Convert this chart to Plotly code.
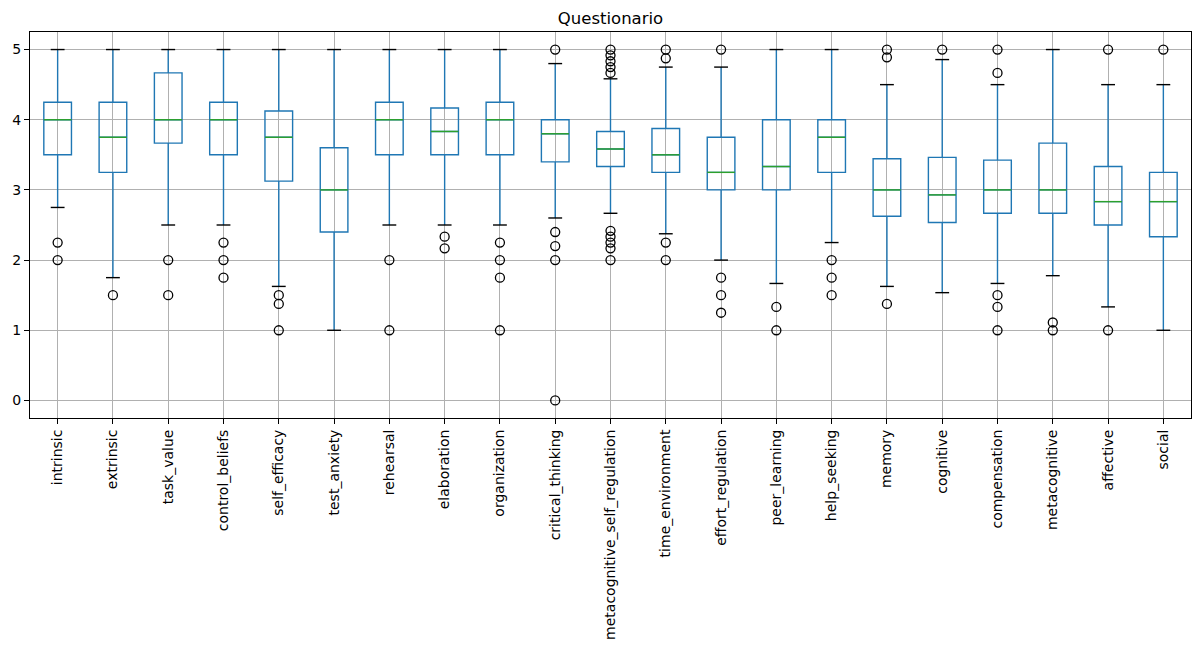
import plotly.graph_objects as go

categories = ["intrinsic", "extrinsic", "task_value", "control_beliefs", "self_efficacy",
              "test_anxiety", "rehearsal", "elaboration", "organization", "critical_thinking",
              "metacognitive_self_regulation", "time_environment", "effort_regulation",
              "peer_learning", "help_seeking", "memory", "cognitive", "compensation",
              "metacognitive", "affective", "social"]

q1 = [3.5, 3.25, 3.667, 3.5, 3.125, 2.4, 3.5, 3.5, 3.5, 3.4, 3.333, 3.25, 3.0, 3.0, 3.25,
      2.625, 2.536, 2.667, 2.667, 2.5, 2.333]
median = [4.0, 3.75, 4.0, 4.0, 3.75, 3.0, 4.0, 3.833, 4.0, 3.8, 3.583, 3.5, 3.25, 3.333, 3.75,
          3.0, 2.929, 3.0, 3.0, 2.833, 2.833]
q3 = [4.25, 4.25, 4.667, 4.25, 4.125, 3.6, 4.25, 4.167, 4.25, 4.0, 3.833, 3.875, 3.75, 4.0, 4.0,
      3.444, 3.464, 3.424, 3.667, 3.333, 3.25]
whisker_low = [2.75, 1.75, 2.5, 2.5, 1.625, 1.0, 2.5, 2.5, 2.5, 2.6, 2.667, 2.375, 2.0, 1.667, 2.25,
               1.625, 1.536, 1.667, 1.778, 1.333, 1.0]
whisker_high = [5.0, 5.0, 5.0, 5.0, 5.0, 5.0, 5.0, 5.0, 5.0, 4.8, 4.583, 4.75, 4.75, 5.0, 5.0,
                4.5, 4.857, 4.5, 5.0, 4.5, 4.5]
outliers = [
    [2.25, 2.0],
    [1.5],
    [2.0, 1.5],
    [2.25, 2.0, 1.75],
    [1.5, 1.375, 1.0],
    [],
    [2.0, 1.0],
    [2.333, 2.167],
    [2.25, 2.0, 1.75, 1.0],
    [5.0, 2.4, 2.2, 2.0, 0.0],
    [5.0, 4.917, 4.833, 4.75, 4.667, 2.417, 2.333, 2.25, 2.167, 2.0],
    [5.0, 4.875, 2.25, 2.0],
    [5.0, 1.75, 1.5, 1.25],
    [1.333, 1.0],
    [2.0, 1.75, 1.5],
    [5.0, 4.889, 1.375],
    [5.0],
    [5.0, 4.667, 1.5, 1.333, 1.0],
    [1.111, 1.0],
    [5.0, 1.0],
    [5.0],
]
y_ticks = [0, 1, 2, 3, 4, 5]

pos = list(range(1, len(categories) + 1))
BOX_W = 0.5
CAP_W = 0.25
BLUE = "#1f77b4"
GREEN = "#2ca02c"

fig = go.Figure()

fig.add_trace(go.Box(
    x=pos, q1=q1, median=median, q3=q3,
    lowerfence=whisker_low, upperfence=whisker_high,
    width=BOX_W, whiskerwidth=0,
    line=dict(color=BLUE, width=1.4),
    fillcolor="rgba(0,0,0,0)",
    boxpoints=False, showlegend=False, hoverinfo="skip",
))

# caps
cx, cy = [], []
for p, lo, hi in zip(pos, whisker_low, whisker_high):
    for v in (lo, hi):
        cx += [p - CAP_W / 2, p + CAP_W / 2, None]
        cy += [v, v, None]
fig.add_trace(go.Scatter(x=cx, y=cy, mode="lines", line=dict(color="black", width=1.4),
                         showlegend=False, hoverinfo="skip"))

# medians
mx, my = [], []
for p, m in zip(pos, median):
    mx += [p - BOX_W / 2, p + BOX_W / 2, None]
    my += [m, m, None]
fig.add_trace(go.Scatter(x=mx, y=my, mode="lines", line=dict(color=GREEN, width=1.4),
                         showlegend=False, hoverinfo="skip"))

# outliers
ox, oy = [], []
for p, vals in zip(pos, outliers):
    for v in vals:
        ox.append(p)
        oy.append(v)
fig.add_trace(go.Scatter(x=ox, y=oy, mode="markers",
                         marker=dict(symbol="circle-open", size=9, color="black",
                                     line=dict(width=1.3, color="black")),
                         showlegend=False, hoverinfo="skip"))

fig.update_layout(
    width=1201, height=646,
    margin=dict(l=22, r=18, t=24, b=236, autoexpand=False),
    paper_bgcolor="white", plot_bgcolor="white",
    font=dict(family="DejaVu Sans", size=14, color="black"),
    title=dict(text="Questionario", x=0.5, xref="paper", xanchor="center",
               y=1 - 10 / 646, yref="container", yanchor="middle",
               font=dict(size=16.5, family="DejaVu Sans", color="black")),
)
fig.update_xaxes(
    range=[0.5, len(categories) + 0.5], automargin=False,
    tickmode="array", tickvals=pos, ticktext=categories, tickangle=-90,
    showgrid=True, gridcolor="#b0b0b0", gridwidth=1,
    showline=True, linecolor="black", linewidth=1, mirror=True,
    ticks="outside", ticklen=5, tickcolor="black", zeroline=False,
)
fig.update_yaxes(
    range=[-0.25, 5.25], automargin=False,
    tickmode="array", tickvals=y_ticks, ticktext=[str(t) for t in y_ticks],
    showgrid=True, gridcolor="#b0b0b0", gridwidth=1,
    showline=True, linecolor="black", linewidth=1, mirror=True,
    ticks="outside", ticklen=5, tickcolor="black", zeroline=False,
)

fig.write_html("out.html")
